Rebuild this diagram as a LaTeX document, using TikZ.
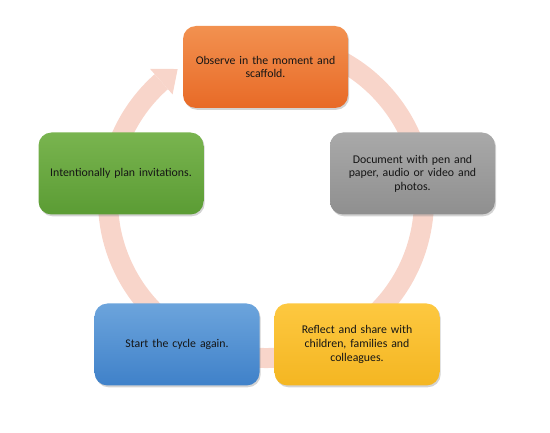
\documentclass[tikz,border=0pt]{standalone}
\usepackage{fontspec}
\setmainfont{Carlito}
\usepackage{xcolor}
\usepackage{tikz}
\usetikzlibrary{positioning}
\usetikzlibrary{calc}
\usetikzlibrary{shadows}

\definecolor{ringpink}{HTML}{F8D5CA}
\definecolor{obsT}{HTML}{F29150}
\definecolor{obsB}{HTML}{E86A27}
\definecolor{docT}{HTML}{A9A9A9}
\definecolor{docB}{HTML}{8F8F8F}
\definecolor{reflT}{HTML}{FDC840}
\definecolor{reflB}{HTML}{F4B622}
\definecolor{startT}{HTML}{6CA4DC}
\definecolor{startB}{HTML}{3F81C9}
\definecolor{planT}{HTML}{79B44F}
\definecolor{planB}{HTML}{5B9C34}
\definecolor{inktext}{HTML}{151515}

\begin{document}
\begin{tikzpicture}[x=1pt, y=1pt, on grid, stage/.style ={rectangle, rounded corners=13pt, minimum width=165pt, minimum height=82pt, text width=155pt, align=center, text = inktext, font=\fontsize{11.8}{13.6}\selectfont, drop shadow={opacity=0.35, shadow xshift=1.2pt, shadow yshift=-1.8pt}}, ring/.style={draw=ringpink, line width=20pt}]
\useasboundingbox (0,0) rectangle (550,432);
\coordinate (hub) at (266,232);
% the cycle ring behind the boxes
\draw[ring] ($(hub)+(80:158)$) arc[start angle=80, end angle=-228.5, radius=158];
\fill[ringpink] ($(hub)+(131.5:141)$) -- ($(hub)+(124:158)$) -- ($(hub)+(131.5:175)$) -- cycle;
% the five stages
\node[stage, top color=obsT, bottom color=obsB] (obs) at (265.5,365) {Observe in the moment and\\ scaffold.};
\node[stage, top color=docT, bottom color=docB] (doc) [below right = 106.5pt and 147pt of obs] {Document with pen and\\ paper, audio or video and\\ photos.};
\node[stage, top color=reflT, bottom color=reflB] (refl) [below left = 171pt and 55.5pt of doc] {Reflect and share with\\ children, families and\\ colleagues.};
\node[stage, top color=startT, bottom color=startB] (start) [left = 180pt of refl] {Start the cycle again.};
\node[stage, top color=planT, bottom color=planB] (plan) [above left = 171pt and 56pt of start] {Intentionally plan invitations.};
\end{tikzpicture}
\end{document}
